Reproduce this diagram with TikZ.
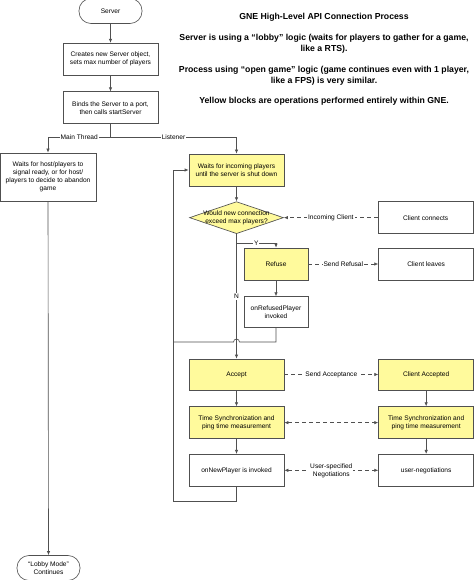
\documentclass[tikz,border=0pt]{standalone}
\usepackage{fontspec}
\setmainfont{Liberation Sans}
\usepackage{tikz}
\usetikzlibrary{arrows.meta,shapes,positioning}
\definecolor{gneyellow}{HTML}{FFFA9C}
\definecolor{flowline}{HTML}{505050}
\tikzset{
  every picture/.style = {
    line width = 0.65pt,
    >={Latex[length=4pt,width=3.4pt]},
    x = 1pt,
    y = -1pt,
  }
  ,
  proc/.style = {
    rectangle,
    draw = flowline,
    fill = white,
    font = \fontsize{6.6pt}{8pt}\selectfont,
    align = center,
    inner sep = 1pt,
    minimum width = 95pt,
    minimum height = 32pt
  }
  , % operations done inside GNE
  proc-gne/.style = {
    proc,
    fill = gneyellow
  }
  ,
  term/.style = {
    rectangle,
    rounded corners = 12pt,
    draw = flowline,
    font = \fontsize{6.6pt}{8pt}\selectfont,
    align = center,
    minimum width = 63pt,
    minimum height = 25pt
  }
  ,
  decision/.style = {
    diamond,
    draw = flowline,
    fill = gneyellow,
    inner sep = 0pt,
    aspect = 3,
    minimum width = 94pt,
    minimum height = 32pt
  }
  ,
  decision-text/.style = {
    font = \fontsize{6.6pt}{8pt}\selectfont,
    align = center
  }
  , % labels of edges
  label-edge/.style = {
    font = \fontsize{6.6pt}{8pt}\selectfont,
    fill = white,
    inner sep = 1pt
  }
  , % messages between server and client
  msg/.style = {
    dash pattern = on 4pt off 3pt
  }
  ,
  note/.style = {
    font = \bfseries\fontsize{8.7pt}{11pt}\selectfont,
    align = center
  }
}
\begin{document}
\begin{tikzpicture}[draw = flowline]
\useasboundingbox (0,0) rectangle (474,580);

% notes
\node[note] (title) at (324,17) {GNE High-Level API Connection Process};
\node[note] (lobbynote) at (324,43.5) {Server is using a “lobby” logic (waits for players to gather for a game,\\like a RTS).};
\node[note] (opennote) at (324,75.5) {Process using “open game” logic (game continues even with 1 player,\\like a FPS) is very similar.};
\node[note] (yellownote) at (324,101) {Yellow blocks are operations performed entirely within GNE.};

% start
\node[term] (server) at (110.5,11) {Server};
\node[proc, below = 19pt of server] (create) {Creates new Server object,\\sets max number of players};
\node[proc, below = 16pt of create] (bind) {Binds the Server to a port,\\then calls startServer};
\coordinate (split) at (bind.south |- 0,137);

% main thread
\node[proc, minimum width = 96pt, minimum height = 48pt] (host) at (48,177) {Waits for host/players to\\signal ready, or for host/\\players to decide to abandon\\game};
\node[term] (lobby) at (48.5,568) {“Lobby Mode”\\Continues};

% listener
\node[proc-gne] (wait) at (236.5,170) {Waits for incoming players\\until the server is shut down};
\node[decision, below = 15pt of wait, label={[decision-text]center:{Would new connection\\exceed max players?}}] (full) {};
\node[proc-gne, minimum width = 64pt] (refuse) at (276,264) {Refuse};
\node[proc, minimum width = 64pt, minimum height = 31pt, below = 16pt of refuse] (refused) {onRefusedPlayer\\invoked};
\node[proc-gne, minimum height = 31pt] (accept) at (236.5,374.5) {Accept};
\node[proc-gne, below = 16pt of accept] (sync) {Time Synchronization and\\ping time measurement};
\node[proc, below = 15pt of sync] (newplayer) {onNewPlayer is invoked};

% client
\node[proc, right = 94pt of full] (connects) {Client connects};
\node[proc, right = 70pt of refuse] (leaves) {Client leaves};
\node[proc-gne, minimum height = 31pt, right = 94pt of accept] (accepted) {Client Accepted};
\node[proc-gne, right = 94pt of sync] (sync2) {Time Synchronization and\\ping time measurement};
\node[proc, right = 94pt of newplayer] (negotiate) {user-negotiations};

\coordinate (yturn) at (full.south |- 0,243);
\coordinate (hop) at (239.5,342);
\coordinate (loopc) at (173,501);

\draw[->] (server) -- (create);
\draw[->] (create) -- (bind);
\draw (bind) -- (split);
\draw[->] (split) -| node[label-edge, pos = 0.25] {Main Thread} (host);
\draw[->] (split) -| node[label-edge, pos = 0.25] {Listener} (wait);
\draw[->] (host) -- (lobby);

\draw[->] (wait) -- (full);
\draw[->, msg] (connects) -- node[label-edge] {Incoming Client} (full);
\draw[->] (full.south) -- (yturn) -| node[label-edge, pos = 0.25] {Y} (refuse);
\draw[->] (full.south) -- node[label-edge] {N} (accept);
\draw[->] (refuse) -- (refused);
\draw[->, msg] (refuse) -- node[label-edge] {Send Refusal} (leaves);
\draw (refused) |- (hop) arc (0:180:3pt) -- (loopc |- hop);

\draw[->] (accept) -- (sync);
\draw[->] (sync) -- (newplayer);
\draw[->] (accepted) -- (sync2);
\draw[->] (sync2) -- (negotiate);
\draw[->, msg] (accept) -- node[label-edge] {Send Acceptance} (accepted);
\draw[<->, msg] (sync) -- (sync2);
\draw[<->, msg] (newplayer) -- node[label-edge, align = center] {User-specified\\Negotiations} (negotiate);
\draw[->] (newplayer) |- (loopc) |- (wait);
\end{tikzpicture}
\end{document}
